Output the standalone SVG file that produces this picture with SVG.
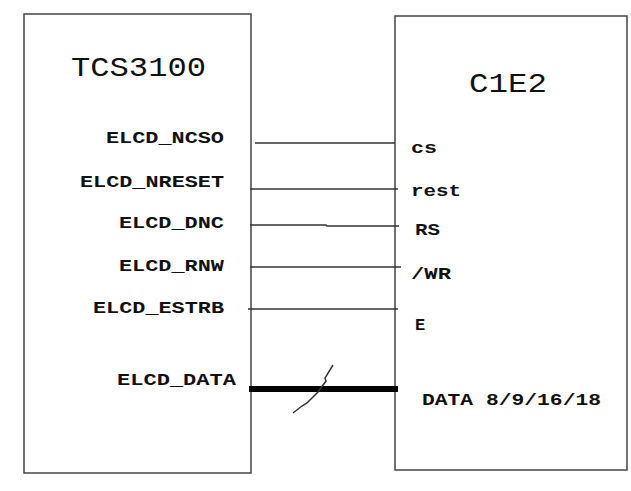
<svg xmlns="http://www.w3.org/2000/svg" width="631" height="491" viewBox="0 0 631 491">
<style>
.box{fill:#fff;stroke:#444;stroke-width:1.5}
.w{stroke:#333;stroke-width:1.5;fill:none}
.l{font-family:"Liberation Mono",monospace;font-weight:bold;font-size:17px;fill:#111}
.t{font-family:"Liberation Mono",monospace;font-size:28px;fill:#111}
</style>
<rect width="631" height="491" fill="#fff"/>
<g id="tcs3100">
<rect class="box" x="24" y="14" width="227" height="459"/>
<text class="t" x="71" y="76" textLength="135" lengthAdjust="spacingAndGlyphs">TCS3100</text>
<text class="l" x="106" y="143" textLength="118" lengthAdjust="spacingAndGlyphs">ELCD_NCSO</text>
<text class="l" x="80" y="187" textLength="144" lengthAdjust="spacingAndGlyphs">ELCD_NRESET</text>
<text class="l" x="119" y="228" textLength="105" lengthAdjust="spacingAndGlyphs">ELCD_DNC</text>
<text class="l" x="119" y="271" textLength="105" lengthAdjust="spacingAndGlyphs">ELCD_RNW</text>
<text class="l" x="93" y="313" textLength="131" lengthAdjust="spacingAndGlyphs">ELCD_ESTRB</text>
<text class="l" x="117" y="385" textLength="119" lengthAdjust="spacingAndGlyphs">ELCD_DATA</text>
</g>
<g id="c1e2">
<rect class="box" x="395" y="16" width="232" height="454"/>
<text class="t" x="469" y="92" textLength="78" lengthAdjust="spacingAndGlyphs">C1E2</text>
<text class="l" x="411" y="153" textLength="26" lengthAdjust="spacingAndGlyphs">cs</text>
<text class="l" x="411" y="196" textLength="50" lengthAdjust="spacingAndGlyphs">rest</text>
<text class="l" x="415" y="235" textLength="25" lengthAdjust="spacingAndGlyphs">RS</text>
<text class="l" x="411" y="279" textLength="40" lengthAdjust="spacingAndGlyphs">/WR</text>
<text class="l" x="415" y="330">E</text>
<text class="l" x="422" y="405" textLength="179" lengthAdjust="spacingAndGlyphs">DATA 8/9/16/18</text>
</g>
<g id="connectors">
<line class="w" x1="255" y1="143" x2="395" y2="143"/>
<line class="w" x1="250" y1="189" x2="398" y2="189"/>
<path class="w" d="M250 225 H326 L327 226 H399"/>
<line class="w" x1="250" y1="267" x2="401" y2="267"/>
<line class="w" x1="248" y1="309" x2="398" y2="309"/>
<line stroke="#000" stroke-width="6" x1="249" y1="389" x2="398" y2="389"/>
<path class="w" stroke-width="1" d="M333 365 L325 378 L326 381 L318 392 L313 397 L307 403 L302 406 L293 413"/>
</g>
</svg>
